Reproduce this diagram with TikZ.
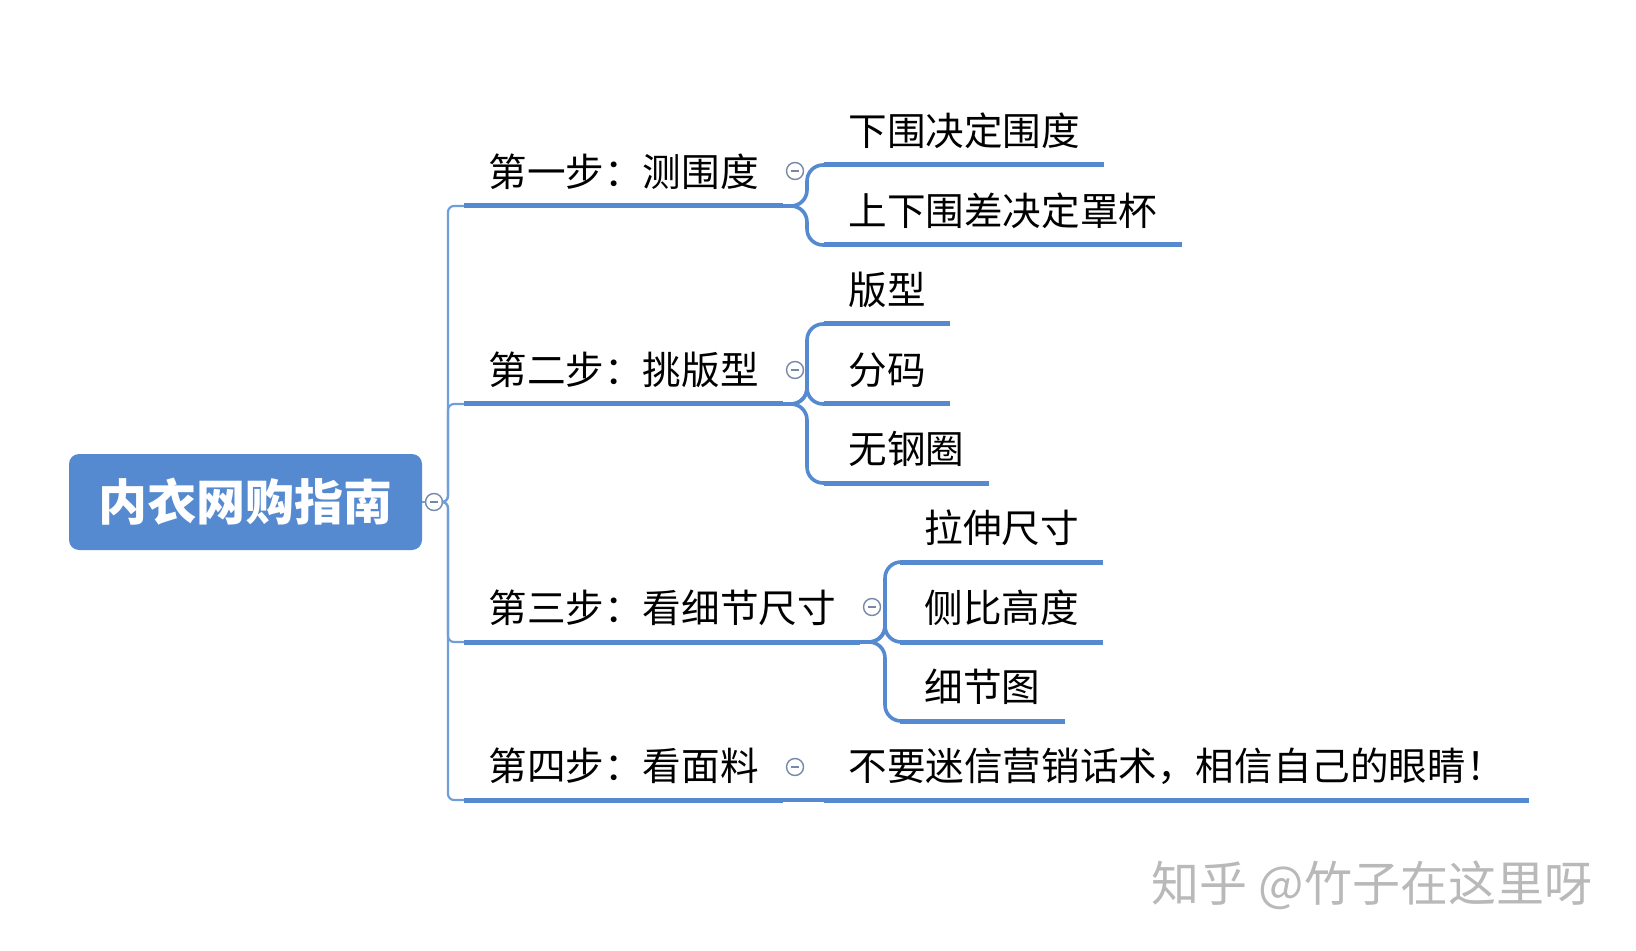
\documentclass[tikz,border=0pt]{standalone}
\usepackage{fontspec}
\setmainfont{Noto Sans CJK SC}
\definecolor{mapblue}{RGB}{86,138,208}
\definecolor{trunkblue}{RGB}{112,158,216}
\definecolor{foldgray}{RGB}{118,136,168}
\begin{document}
\begin{tikzpicture}[x=0.5pt,y=-0.5pt,
    topic/.style={anchor=south west, font=\fontsize{19.3}{19.3}\selectfont, text depth=0pt, inner xsep=12pt, inner ysep=9.5pt},
    rootbox/.style={fill=mapblue, rounded corners=5pt, minimum width=176.5pt, minimum height=48pt, text=white, font=\bfseries\fontsize{24.5}{24.5}\selectfont},
    uline/.style={mapblue, line width=2.5pt},
    branch/.style={mapblue, line width=1.8pt, rounded corners=8pt},
    trunk/.style={trunkblue, line width=1.1pt, rounded corners=3pt},
    fold/.style={circle, draw=foldgray, line width=0.7pt, minimum size=8.5pt, inner sep=0pt,
        path picture={\draw[foldgray, line width=0.7pt] ([xshift=-2pt]path picture bounding box.center) -- ([xshift=2pt]path picture bounding box.center);}},
    watermark/.style={text=gray!55, font=\fontsize{24}{24}\selectfont}]
    \useasboundingbox (0,0) rectangle (1636,951);

    % root
    \node[rootbox] (root) at (245.5,502) {内衣网购指南};
    \node[fold] (f0) at (434,502) {};
    \coordinate (j0) at (448,502);

    % steps
    \node[topic] (s1) at (464,206) {第一步：测围度};
    \node[topic] (s2) at (464,404) {第二步：挑版型};
    \node[topic] (s3) at (464,642) {第三步：看细节尺寸};
    \node[topic] (s4) at (464,800) {第四步：看面料};

    % leaves
    \node[topic] (c11) at (824,165) {下围决定围度};
    \node[topic] (c12) at (824,245) {上下围差决定罩杯};
    \node[topic] (c21) at (824,324) {版型};
    \node[topic] (c22) at (824,404) {分码};
    \node[topic] (c23) at (824,483) {无钢圈};
    \node[topic] (c31) at (900,562) {拉伸尺寸};
    \node[topic] (c32) at (900,642) {侧比高度};
    \node[topic] (c33) at (900,721) {细节图};
    \node[topic] (c41) at (824,800) {不要迷信营销话术，相信自己的眼睛！};

    \coordinate (j1) at (807,206);
    \coordinate (j2) at (807,404);
    \coordinate (j3) at (885,642);

    % connectors
    \draw[trunk] (root.east) -- (f0.west);
    \foreach \s in {s1,s2,s3,s4} \draw[trunk] (f0.east) -- (j0) |- (\s.south west);
    \foreach \c in {c11,c12} \draw[branch] (s1.south east) -- (j1) |- (\c.south west);
    \foreach \c in {c21,c22,c23} \draw[branch] (s2.south east) -- (j2) |- (\c.south west);
    \foreach \c in {c31,c32,c33} \draw[branch] (s3.south east) -- (j3) |- (\c.south west);
    \draw[branch] (s4.south east) -- (c41.south west);

    \foreach \n in {s1,s2,s3,s4,c11,c12,c21,c22,c23,c31,c32,c33,c41}
        \draw[uline] (\n.south west) -- (\n.south east);

    \node[fold] (f1) at (795,171) {};
    \node[fold] (f2) at (795,370) {};
    \node[fold] (f3) at (872,607) {};
    \node[fold] (f4) at (795,767) {};

    \node[watermark] (wm) at (1372,885) {知乎 @竹子在这里呀};
\end{tikzpicture}
\end{document}
